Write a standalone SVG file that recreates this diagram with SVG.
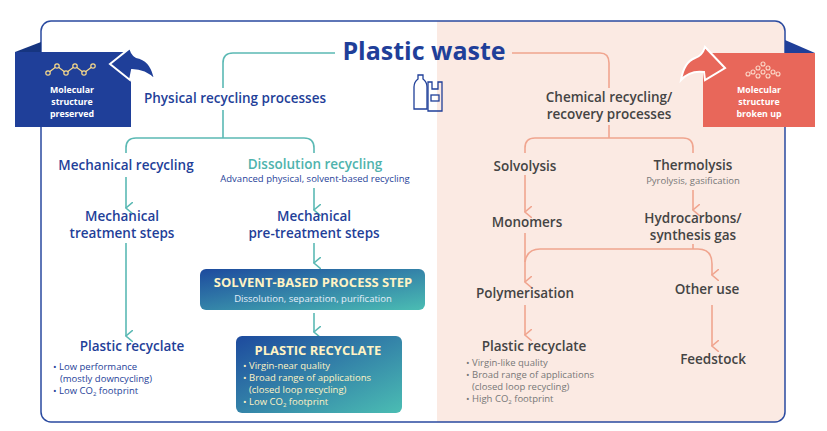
<svg xmlns="http://www.w3.org/2000/svg" width="827" height="431" viewBox="0 0 827 431">
<defs>
<linearGradient id="g" x1="0" y1="0" x2="1" y2="1"><stop offset="0" stop-color="#1d4a9e"/><stop offset="1" stop-color="#4bbdb3"/></linearGradient>
<marker id="at" viewBox="0 0 12 8" refX="6" refY="7" markerWidth="12" markerHeight="8" markerUnits="userSpaceOnUse" orient="auto-start-reverse"><path d="M0,0 L6,7 L12,0" fill="none" stroke="#5bb9b4" stroke-width="1.5"/></marker>
<marker id="ao" viewBox="0 0 12 8" refX="6" refY="7" markerWidth="12" markerHeight="8" markerUnits="userSpaceOnUse" orient="auto-start-reverse"><path d="M0,0 L6,7 L12,0" fill="none" stroke="#f0a58f" stroke-width="1.5"/></marker>
<style>
text{font-family:"Open Sans","Liberation Sans",sans-serif}
.b{fill:#1f3f99;font-size:13.5px;font-weight:600;text-anchor:middle}
.o{fill:#444;font-size:13.5px;font-weight:600;text-anchor:middle}
.s{font-size:9.5px;font-weight:normal}
.t{fill:none;stroke:#5bb9b4;stroke-width:1.6}
.c{fill:none;stroke:#f0a58f;stroke-width:1.6}
.w{fill:#fff;font-weight:bold;font-size:8.8px;text-anchor:middle}
</style>
</defs>
<rect width="827" height="431" fill="#fff"/>
<path d="M437,21 H775 Q785,21 785,31 V412 Q785,422 775,422 H437 Z" fill="#fbeae3"/>
<rect x="41" y="21" width="744" height="401" rx="10" fill="none" stroke="#2a4aa0" stroke-width="1.5"/>
<g id="tab-left">
<path d="M15,52 L41,42 L41,52 Z" fill="#163580"/>
<rect x="15" y="52" width="116" height="75" fill="#1f3f99"/>
<path d="M110,64 L130,48 Q133,58 140,58 Q152,62 155,80 Q145,70 132,70 L130,80 Z" fill="#1f3f99" stroke="#fff" stroke-width="2"/>
<polyline points="48,73 57,66 66,73 75,66 84,73 93,66" fill="none" stroke="#f7d98a" stroke-width="1.3"/>
<g fill="#1f3f99" stroke="#f7d98a" stroke-width="1.2"><circle cx="48" cy="73" r="2.2"/><circle cx="57" cy="66" r="2.2"/><circle cx="66" cy="73" r="2.2"/><circle cx="75" cy="66" r="2.2"/><circle cx="84" cy="73" r="2.2"/><circle cx="93" cy="66" r="2.2"/></g>
<text class="w" x="72" y="93">Molecular</text><text class="w" x="72" y="105">structure</text><text class="w" x="72" y="117">preserved</text>
</g>
<g id="tab-right">
<path d="M785,40 L815,53 L785,53 Z" fill="#1f3f99"/>
<rect x="703" y="53" width="112" height="74" fill="#e8675a"/>
<path d="M725,68 L705,47 Q702,56 695,58 Q684,62 681,80 Q690,70 704,72 L705,80 Z" fill="#e8675a" stroke="#fff" stroke-width="2"/>
<g fill="none" stroke="#fbd7c8" stroke-width="1.1"><circle cx="763" cy="64" r="2"/><circle cx="758" cy="68" r="2"/><circle cx="768" cy="68" r="2"/><circle cx="753" cy="72" r="2"/><circle cx="763" cy="72" r="2"/><circle cx="773" cy="72" r="2"/><circle cx="758" cy="76" r="2"/><circle cx="768" cy="76" r="2"/><circle cx="748" cy="74" r="2"/><circle cx="778" cy="74" r="2"/></g>
<text class="w" x="759" y="93">Molecular</text><text class="w" x="759" y="105">structure</text><text class="w" x="759" y="117">broken up</text>
</g>
<g id="title">
<text x="424" y="60" fill="#1f3f99" font-size="25" font-weight="bold" text-anchor="middle">Plastic waste</text>
<g fill="none" stroke="#1f3f99" stroke-width="1.3"><path d="M418,75 h5 v4 q4,3 4,8 v22 h-13 v-22 q0,-5 4,-8z"/><path d="M428,82 h4 v7 h6 v-7 h4 v29 h-14z"/><rect x="431" y="95" width="8" height="6"/></g>
</g>
<g id="connectors">
<path class="t" d="M335,53 H233 Q223,53 223,63 V88"/>
<path class="t" d="M223,110 V138 M126,153 V148 Q126,138 136,138 H304 Q314,138 314,148 V153"/>
<path class="t" d="M126,177 V208" marker-end="url(#at)"/>
<path class="t" d="M126,243 V336" marker-end="url(#at)"/>
<path class="t" d="M314,188 V210" marker-end="url(#at)"/>
<path class="t" d="M314,243 V263" marker-end="url(#at)"/>
<path class="t" d="M314,313 V332" marker-end="url(#at)"/>
<path class="c" d="M512,53 H600 Q609,53 609,63 V88"/>
<path class="c" d="M609,125 V138 M525,153 V148 Q525,138 535,138 H683 Q693,138 693,148 V153"/>
<path class="c" d="M525,175 V212" marker-end="url(#ao)"/>
<path class="c" d="M693,190 V210" marker-end="url(#ao)"/>
<path class="c" d="M525,233 V282" marker-end="url(#ao)"/>
<path class="c" d="M693,244 V249 M525,262 Q527,249 540,249 H698 Q712,249 712,264 V275" marker-end="url(#ao)"/>
<path class="c" d="M525,305 V335" marker-end="url(#ao)"/>
<path class="c" d="M712,305 V346" marker-end="url(#ao)"/>
</g>
<g id="physical"><text class="b" x="235" y="103">Physical recycling processes</text></g>
<g id="mech"><text class="b" x="126" y="170">Mechanical recycling</text></g>
<g id="mech-steps"><text class="b" x="122" y="221">Mechanical</text><text class="b" x="122" y="238">treatment steps</text></g>
<g id="recyclate-mech"><text class="b" x="132" y="351">Plastic recyclate</text>
<g fill="#1f3f99" font-size="9.5"><text x="53" y="370">• Low performance</text><text x="60" y="382">(mostly downcycling)</text><text x="53" y="394">• Low CO<tspan font-size="6" dy="2">2</tspan><tspan dy="-2"> footprint</tspan></text></g></g>
<g id="dissolution"><text class="b" x="315" y="169" style="fill:#4fb3ad">Dissolution recycling</text><text class="b s" x="315" y="182">Advanced physical, solvent-based recycling</text></g>
<g id="pre"><text class="b" x="314" y="221">Mechanical</text><text class="b" x="314" y="238">pre-treatment steps</text></g>
<g id="solvent"><rect x="200" y="269" width="225" height="41" rx="6" fill="url(#g)"/>
<text x="313" y="287" fill="#fff3c4" font-size="13" font-weight="bold" text-anchor="middle">SOLVENT-BASED PROCESS STEP</text>
<text x="313" y="302" fill="#e6eefa" font-size="9.5" text-anchor="middle">Dissolution, separation, purification</text></g>
<g id="recyclate-diss"><rect x="236" y="336" width="166" height="77" rx="6" fill="url(#g)"/>
<text x="318" y="355" fill="#fff3c4" font-size="13" font-weight="bold" text-anchor="middle">PLASTIC RECYCLATE</text>
<g fill="#fff3c4" font-size="9.5"><text x="243" y="369">• Virgin-near quality</text><text x="243" y="381">• Broad range of applications</text><text x="249" y="393">(closed loop recycling)</text><text x="243" y="405">• Low CO<tspan font-size="6" dy="2">2</tspan><tspan dy="-2"> footprint</tspan></text></g></g>
<g id="chemical"><text class="o" x="609" y="102">Chemical recycling/</text><text class="o" x="609" y="119">recovery processes</text></g>
<g id="solvolysis"><text class="o" x="525" y="171">Solvolysis</text></g>
<g id="thermolysis"><text class="o" x="693" y="170">Thermolysis</text><text class="o s" x="693" y="184" style="fill:#777">Pyrolysis, gasification</text></g>
<g id="monomers"><text class="o" x="527" y="227">Monomers</text></g>
<g id="hydro"><text class="o" x="693" y="223">Hydrocarbons/</text><text class="o" x="693" y="240">synthesis gas</text></g>
<g id="poly"><text class="o" x="525" y="298">Polymerisation</text></g>
<g id="other"><text class="o" x="707" y="294">Other use</text></g>
<g id="recyclate-chem"><text class="o" x="534" y="351">Plastic recyclate</text>
<g fill="#777" font-size="9.5"><text x="466" y="366">• Virgin-like quality</text><text x="466" y="378">• Broad range of applications</text><text x="472" y="390">(closed loop recycling)</text><text x="466" y="402">• High CO<tspan font-size="6" dy="2">2</tspan><tspan dy="-2"> footprint</tspan></text></g></g>
<g id="feedstock"><text class="o" x="713" y="364">Feedstock</text></g>
</svg>
